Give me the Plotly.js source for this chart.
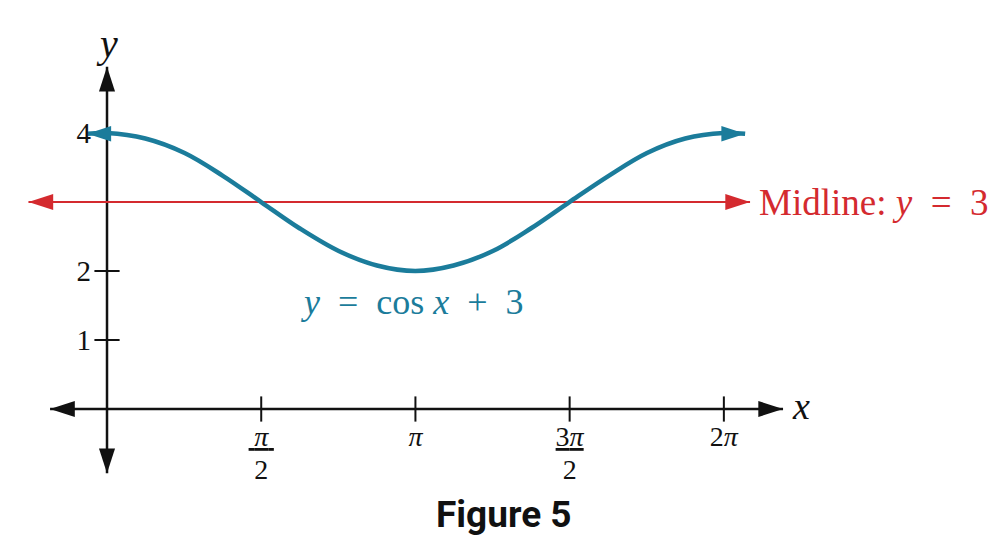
<!DOCTYPE html>
<html>
<head>
<meta charset="utf-8">
<script src="https://cdn.plot.ly/plotly-3.0.1.min.js"></script>
<style>
  html, body { margin: 0; padding: 0; background: #fff; }
  #chart { width: 1000px; height: 549px; }
</style>
</head>
<body>
<div id="chart"></div>
<script>
// values: y = cos x + 3
const curveX = [-0.2, 0, 0.39, 0.79, 1.18, 1.57, 1.96, 2.36, 2.75, 3.14, 3.53, 3.93, 4.32, 4.71, 5.11, 5.50, 5.89, 6.28, 6.5]
const curveY = [3.99, 4, 3.92, 3.71, 3.38, 3.0, 2.62, 2.29, 2.08, 2, 2.08, 2.29, 2.62, 3.0, 3.38, 3.71, 3.92, 4, 3.99]

const midlineY = 3

// x ticks: numerators on one axis, denominators of the fractions on a second one
const xTickVals = [1.5708, 3.1416, 4.7124, 6.2832]
const xTickText = ['<u>\u2009<i>π</i>\u2009</u>', '<i>π</i>', '<u>3<i>π</i></u>', '2<i>π</i>']
const xDenomVals = [1.5708, 4.7124]
const xDenomText = ['2', '2']
const yTickVals = [1, 2, 4]
const yTickText = ['1', '2', '4']

const teal = '#1b7c9b'
const red = '#d42a2f'
const ink = '#111'
const serif = 'Liberation Serif, Times New Roman, serif'

// straight double-headed arrow drawn as a line with arrow markers at both ends
const arrowLine = (xs, ys, angles, color, width, size) => ({
    x: xs,
    y: ys,
    type: 'scatter',
    mode: 'lines+markers',
    line: { color: color, width: width },
    marker: { symbol: 'arrow', size: size, color: color, angle: angles, opacity: 1, line: { width: 0 } },
    hoverinfo: 'skip',
})

const endSizes = curveX.map((v, i) => (i === 0 || i === curveX.length - 1) ? 25 : 0)
const endAngles = curveX.map((v, i) => i === 0 ? -90 : 90)

const data = [
    // axes
    arrowLine([-0.58, 6.886], [0, 0], [-90, 90], ink, 2.5, 26),
    arrowLine([0, 0], [-0.93, 4.96], [180, 0], ink, 2.5, 26),
    // tick marks
    {
        x: xTickVals, y: xTickVals.map(() => 0), type: 'scatter', mode: 'markers',
        marker: { symbol: 'line-ns', size: 18, line: { color: ink, width: 2 } }, hoverinfo: 'skip',
    },
    {
        x: yTickVals.map(() => 0), y: yTickVals, type: 'scatter', mode: 'markers',
        marker: { symbol: 'line-ew', size: 18, line: { color: ink, width: 2 } }, hoverinfo: 'skip',
    },
    // midline
    arrowLine([-0.8, 6.55], [midlineY, midlineY], [-90, 90], red, 2, 26),
    // curve
    {
        x: curveX, y: curveY, type: 'scatter', mode: 'lines+markers',
        line: { color: teal, width: 4.5, shape: 'spline', smoothing: 1 },
        marker: { symbol: 'arrow', size: endSizes, angle: endAngles, color: teal, opacity: 1, line: { width: 0 } },
        hoverinfo: 'skip',
    },
    // empty trace so the second x axis is drawn
    { x: [], y: [], xaxis: 'x2', type: 'scatter', mode: 'markers', hoverinfo: 'skip' },
]

const xBase = {
    range: [-1.090, 9.096],
    showgrid: false, zeroline: false, showline: false, ticks: '',
    anchor: 'free', position: 0.255,
    tickfont: { family: serif, size: 28, color: ink },
}

const layout = {
    width: 1000,
    height: 549,
    margin: { l: 0, r: 0, t: 0, b: 0 },
    paper_bgcolor: '#fff',
    plot_bgcolor: '#fff',
    showlegend: false,
    hovermode: false,
    xaxis: Object.assign({}, xBase, { tickvals: xTickVals, ticktext: xTickText, ticklabelstandoff: 8 }),
    xaxis2: Object.assign({}, xBase, { overlaying: 'x', tickvals: xDenomVals, ticktext: xDenomText, ticklabelstandoff: 41 }),
    yaxis: {
        range: [-2.029, 5.928],
        showgrid: false, zeroline: false, showline: false,
        ticks: '', tickvals: yTickVals, ticktext: yTickText,
        anchor: 'free', position: 0.107, ticklabelstandoff: 16,
        tickfont: { family: serif, size: 29, color: ink },
    },
    annotations: [
        { x: 0, y: 5.3, text: '<i>y</i>', showarrow: false, font: { family: serif, size: 40, color: ink } },
        { x: 7.07, y: 0.05, text: '<i>x</i>', showarrow: false, font: { family: serif, size: 38, color: ink } },
        { x: 6.62, y: midlineY, text: 'Midline: <i>y</i>\u2002=\u20023', showarrow: false, xanchor: 'left',
          font: { family: serif, size: 37, color: red } },
        { x: 3.107, y: 1.55, text: '<i>y</i>\u2002=\u2002cos <i>x</i>\u2002+\u20023', showarrow: false,
          font: { family: serif, size: 36, color: teal } },
        { xref: 'paper', yref: 'paper', x: 0.504, y: 0.062, xanchor: 'center', yanchor: 'middle',
          text: '<b>Figure 5</b>', showarrow: false,
          font: { family: 'Roboto, Liberation Sans, sans-serif', size: 37, color: ink } },
    ],
}

Plotly.newPlot('chart', data, layout, { staticPlot: true, displayModeBar: false })
</script>
</body>
</html>
